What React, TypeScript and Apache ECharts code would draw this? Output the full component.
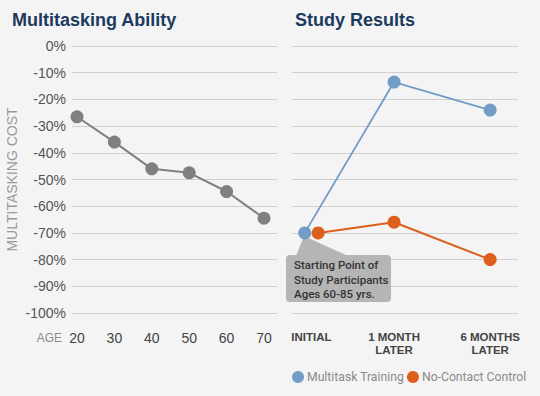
import React, { useEffect, useRef } from "react";
import * as echarts from "echarts";

const ages = [20, 30, 40, 50, 60, 70];
const ageCost = [-26.5, -36, -46, -47.5, -54.5, -64.5];

const studyCategories = ["INITIAL", "1 MONTH\nLATER", "6 MONTHS\nLATER"];
const studyPositions = [0.14, 1, 2];
const multitaskTraining = [-70, -13.5, -24];
const noContactControl = [-70, -66, -80];

const FONT = "'Liberation Sans', Arial, Helvetica, sans-serif";
const COND = "Roboto, 'Liberation Sans', sans-serif";
const BLUE = "#729dc6";
const ORANGE = "#dd5f1c";
const GRAY = "#808080";
const GRID = "#d0d0d0";

export default function App() {
  const ref = useRef<HTMLDivElement>(null);
  useEffect(() => {
    const chart = echarts.init(ref.current!, null, { renderer: "svg" });
    const initialSplit = 0.07;
    const trainingData = studyPositions.map((p, i) => [i === 0 ? p - initialSplit : p, multitaskTraining[i]]);
    const controlData = studyPositions.map((p, i) => [i === 0 ? p + initialSplit : p, noContactControl[i]]);
    const yBase = {
      type: "value",
      min: -100,
      max: 0,
      interval: 10,
      axisLine: { show: false },
      axisTick: { show: false },
      splitLine: { show: true, lineStyle: { color: GRID, width: 1 } },
    };
    chart.setOption({
      animation: false,
      backgroundColor: "#f4f4f4",
      title: [
        {
          text: "Multitasking Ability",
          left: 12,
          top: 11,
          padding: 0,
          textStyle: { fontSize: 18, fontWeight: "bold", color: "#1c3a5e", fontFamily: FONT },
        },
        {
          text: "Study Results",
          left: 295,
          top: 11,
          padding: 0,
          textStyle: { fontSize: 18, fontWeight: "bold", color: "#1c3a5e", fontFamily: FONT },
        },
      ],
      grid: [
        { left: 72, right: 263, top: 46, bottom: 83 },
        { left: 292, right: 22, top: 46, bottom: 83 },
      ],
      xAxis: [
        {
          gridIndex: 0,
          type: "value",
          min: 18.66,
          max: 73.48,
          axisLine: { show: false },
          axisTick: { show: false },
          splitLine: { show: false },
          axisLabel: {
            customValues: ages,
            margin: 18,
            verticalAlign: "top",
            fontSize: 14,
            color: "#444",
            fontFamily: FONT,
            formatter: (v: number) => String(Math.round(v)),
          },
        },
        {
          gridIndex: 1,
          type: "value",
          min: -0.0625,
          max: 2.29,
          axisLine: { show: false },
          axisTick: { show: false },
          splitLine: { show: false },
          axisLabel: {
            customValues: studyPositions,
            margin: 17,
            verticalAlign: "top",
            fontSize: 11.5,
            fontWeight: "bold",
            lineHeight: 13,
            color: "#444",
            fontFamily: FONT,
            formatter: (v: number) => {
              const i = studyPositions.findIndex((p) => Math.abs(p - v) < 1e-6);
              return i >= 0 ? studyCategories[i] : "";
            },
          },
        },
      ],
      yAxis: [
        {
          ...yBase,
          gridIndex: 0,
          name: "MULTITASKING COST",
          nameLocation: "middle",
          nameRotate: 90,
          nameGap: 53,
          nameTextStyle: { fontSize: 14, color: "#9a9a9a", fontFamily: FONT },
          axisLabel: {
            margin: 6,
            fontSize: 14,
            color: "#555",
            fontFamily: FONT,
            formatter: (v: number) => `${v}%`,
          },
        },
        {
          ...yBase,
          gridIndex: 1,
          axisLabel: { show: false },
        },
      ],
      legend: {
        data: ["Multitask Training", "No-Contact Control"],
        icon: "circle",
        left: 292,
        top: 371,
        width: 250,
        padding: 0,
        itemWidth: 12,
        itemHeight: 12,
        itemGap: 3,
        textStyle: { fontSize: 12.2, color: "#8a8a8a", fontFamily: COND, padding: [0, 0, 0, -2] },
      },
      graphic: {
        z: 1,
        elements: [
          {
            type: "polygon",
            z: 1,
            shape: { points: [[304, 236], [296, 256], [348, 256]] },
            style: { fill: "#b5b5b5" },
          },
          {
            type: "rect",
            z: 1,
            shape: { x: 286, y: 255, width: 105, height: 47, r: 4 },
            style: { fill: "#b5b5b5" },
          },
          {
            type: "text",
            z: 1,
            x: 294,
            y: 258,
            style: {
              text: "Starting Point of\nStudy Participants\nAges 60-85 yrs.",
              fontSize: 11.5,
              fontWeight: 500,
              lineHeight: 14.5,
              fill: "#333",
              fontFamily: COND,
            },
          },
          {
            type: "text",
            z: 1,
            x: 62,
            y: 332,
            style: {
              text: "AGE",
              fontSize: 12,
              fill: "#8c8c8c",
              fontFamily: FONT,
              align: "right",
            },
          },
        ],
      },
      series: [
        {
          type: "line",
          name: "Age",
          xAxisIndex: 0,
          yAxisIndex: 0,
          data: ages.map((a, i) => [a, ageCost[i]]),
          symbol: "circle",
          symbolSize: 13,
          lineStyle: { color: GRAY, width: 2 },
          itemStyle: { color: GRAY },
          z: 3,
        },
        {
          type: "line",
          name: "Multitask Training",
          xAxisIndex: 1,
          yAxisIndex: 1,
          data: trainingData,
          symbol: "circle",
          symbolSize: 13,
          lineStyle: { color: BLUE, width: 1.8 },
          itemStyle: { color: BLUE },
          z: 3,
        },
        {
          type: "line",
          name: "No-Contact Control",
          xAxisIndex: 1,
          yAxisIndex: 1,
          data: controlData,
          symbol: "circle",
          symbolSize: 13,
          lineStyle: { color: ORANGE, width: 2 },
          itemStyle: { color: ORANGE },
          z: 4,
        },
      ],
    });
    return () => chart.dispose();
  }, []);
  return (
    <div
      ref={ref}
      style={{ position: "fixed", left: 0, top: 0, width: 540, height: 396 }}
    />
  );
}
